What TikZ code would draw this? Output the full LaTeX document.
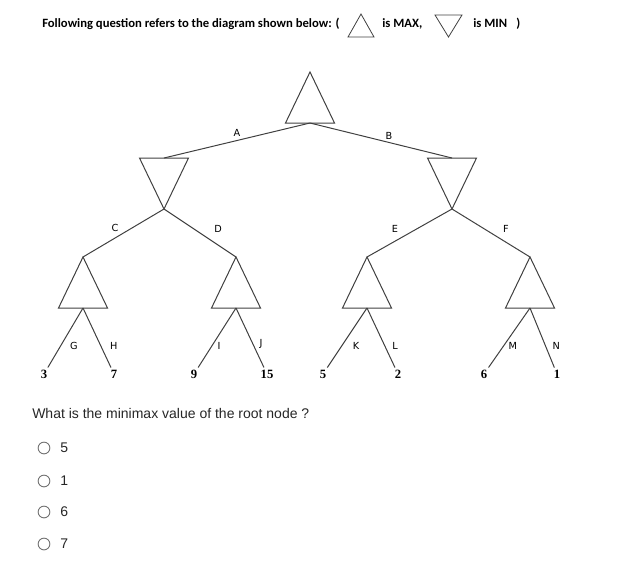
\documentclass[tikz,border=0pt]{standalone}
\usepackage{fontspec}
\setmainfont{Liberation Serif}
\newfontfamily\titlefont{Carlito}
\newfontfamily\labelfont{DejaVu Sans}
\newfontfamily\qfont{Liberation Sans}
\tikzset{
    tri/.style={draw=black!75, line width=0.75pt, line join=miter},
    edge/.style={draw=black!75, line width=0.75pt},
    lbl/.style={font=\labelfont\fontsize{7.3}{8}\selectfont, inner sep=0pt},
    leaf/.style={font=\bfseries\fontsize{9.5}{10}\selectfont, inner sep=1.5pt},
    radio/.style={circle, draw=black!55, line width=0.7pt, minimum size=8.8pt, inner sep=0pt},
    qtext/.style={font=\qfont\fontsize{10.5}{12}\selectfont, text=black!85, inner sep=0pt},
    ttext/.style={font=\titlefont\bfseries\fontsize{9.5}{11}\selectfont, inner sep=0pt, anchor=base west},
    maxnode/.pic={
        \draw[tri] (0,0) -- (-24.5,51) -- (24.5,51) -- cycle;
        \coordinate (-top) at (0,0);
        \coordinate (-bot) at (0,51);
    },
    minnode/.pic={
        \draw[tri] (-24.5,0) -- (24.5,0) -- (0,51) -- cycle;
        \coordinate (-top) at (0,0);
        \coordinate (-bot) at (0,51);
    }
}
\begin{document}
\begin{tikzpicture}[x=0.75pt, y=-0.75pt]
    \useasboundingbox (0,0) rectangle (625,569);
    % titel
    \node[ttext] (title) at (42,27) {Following question refers to the diagram shown below: (};
    \draw[tri, line width=0.6pt] (361,14) -- (348,37) -- (374,37) -- cycle;
    \node[ttext] (ismax) at (382,27) {is MAX,};
    \draw[tri, line width=0.6pt] (435,15) -- (462,15) -- (448.5,37) -- cycle;
    \node[ttext] (ismin) at (473,27) {is MIN};
    \node[ttext] (close) at (516,27) {)};

    % boom
    \pic (root) at (310,72) {maxnode};
    \pic (mA) at (164,158) {minnode};
    \pic (mB) at (452,158) {minnode};
    \pic (x1) at (83,257) {maxnode};
    \pic (x2) at (236,257) {maxnode};
    \pic (x3) at (367,257) {maxnode};
    \pic (x4) at (530,257) {maxnode};

    \foreach \n/\x/\v in {l1/44/3, l2/114/7, l3/194/9, l4/267/15, l5/323/5, l6/398/2, l7/484/6, l8/557/1}
        \node[leaf] (\n) at (\x,374) {\v};

    \draw[edge] (root-bot) -- node[lbl, pos=0.5, yshift=5.6pt] (eA) {A} (mA-top);
    \draw[edge] (root-bot) -- node[lbl, pos=0.556, yshift=4.9pt] (eB) {B} (mB-top);
    \draw[edge] (mA-bot) -- node[lbl, pos=0.605, yshift=7.5pt] (eC) {C} (x1-top);
    \draw[edge] (mA-bot) -- node[lbl, pos=0.75, yshift=12.4pt] (eD) {D} (x2-top);
    \draw[edge] (mB-bot) -- node[lbl, pos=0.67, yshift=9pt] (eE) {E} (x3-top);
    \draw[edge] (mB-bot) -- node[lbl, pos=0.69, yshift=9.9pt] (eF) {F} (x4-top);

    \draw[edge] (x1-bot) -- node[lbl, pos=0.64, xshift=10.1pt] (eG) {G} (l1);
    \draw[edge] (x1-bot) -- node[lbl, pos=0.64, xshift=9.6pt] (eH) {H} (l2);
    \draw[edge] (x2-bot) -- node[lbl, pos=0.64, xshift=5.5pt] (eI) {I} (l3);
    \draw[edge] (x2-bot) -- node[lbl, pos=0.6, xshift=6.2pt] (eJ) {J} (l4);
    \draw[edge] (x3-bot) -- node[lbl, pos=0.64, xshift=10.8pt] (eK) {K} (l5);
    \draw[edge] (x3-bot) -- node[lbl, pos=0.64, xshift=7.7pt] (eL) {L} (l6);
    \draw[edge] (x4-bot) -- node[lbl, pos=0.64, xshift=7pt] (eM) {M} (l7);
    \draw[edge] (x4-bot) -- node[lbl, pos=0.64, xshift=8pt] (eN) {N} (l8);

    % vraag
    \node[qtext, anchor=base west] (question) at (32,418) {What is the minimax value of the root node ?};
    \foreach \i/\y/\v in {1/448/5, 2/481/1, 3/512/6, 4/544/7} {
        \node[radio] (r\i) at (44,\y) {};
        \node[qtext, anchor=west] (o\i) at (60,\y) {\v};
    }
\end{tikzpicture}
\end{document}
